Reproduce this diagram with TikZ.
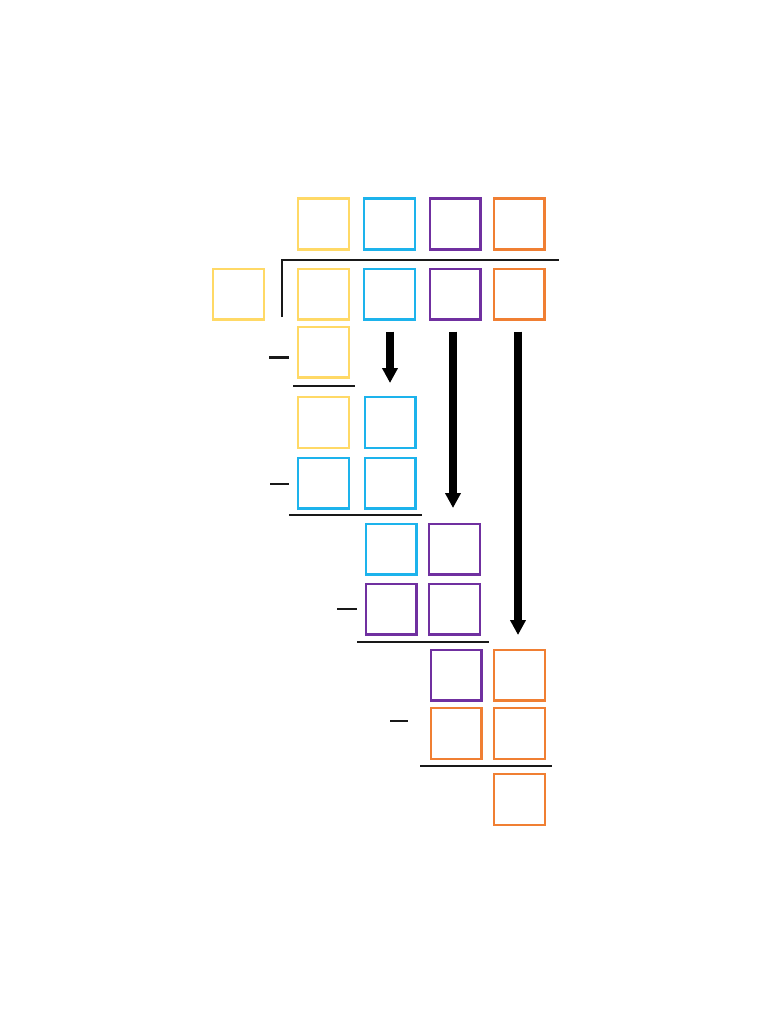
\documentclass[tikz,border=0pt]{standalone}
\usetikzlibrary{arrows.meta,calc}
\definecolor{cyel}{HTML}{FFD966}
\definecolor{cblu}{HTML}{1DB3EC}
\definecolor{cpur}{HTML}{7030A0}
\definecolor{cora}{HTML}{F07F33}
\begin{document}
\begin{tikzpicture}[x=1pt,y=-1pt,
  digit/.style={draw,line width=2.4pt,minimum size=50.6pt,inner sep=0pt},
  yb/.style={digit,draw=cyel},
  bb/.style={digit,draw=cblu},
  pb/.style={digit,draw=cpur},
  ob/.style={digit,draw=cora},
  rule/.style={line width=2.4pt,draw=black!90},
  minus/.style={line width=2.4pt,draw=black!90},
  carry/.style={line width=8pt,-{Triangle[width=15pt,length=15pt]}}]
\useasboundingbox (0,0) rectangle (768,1024);
% quotient row
\node[yb] (q1) at (323.5,224) {};
\node[bb] (q2) at (389.5,224) {};
\node[pb] (q3) at (455,224) {};
\node[ob] (q4) at (519,224) {};
% dividend row
\node[yb] (dv) at (238.5,294) {};
\node[yb] (d1) at (323.5,294) {};
\node[bb] (d2) at (389.5,294) {};
\node[pb] (d3) at (455,294) {};
\node[ob] (d4) at (519,294) {};
% division bracket
\coordinate (bt) at (282,317);
\coordinate (bc) at (282,260);
\coordinate (be) at (559,260);
\draw[rule] (bt) -- (bc) -- (be);
% step 1
\node[yb] (s1) at (323.5,352) {};
\coordinate (m1a) at (269,357.5); \coordinate (m1b) at (289,357.5);
\draw[minus] (m1a) -- (m1b);
\coordinate (l1a) at (293,386); \coordinate (l1b) at (355,386);
\draw[rule] (l1a) -- (l1b);
% step 2
\node[yb] (r4a) at (323.5,422.5) {};
\node[bb] (r4b) at (390,422.5) {};
\node[bb] (r5a) at (323.5,483) {};
\node[bb] (r5b) at (390,483) {};
\coordinate (m2a) at (270,484); \coordinate (m2b) at (289,484);
\draw[minus] (m2a) -- (m2b);
\coordinate (l2a) at (289,515); \coordinate (l2b) at (422,515);
\draw[rule] (l2a) -- (l2b);
% step 3
\node[bb] (r6a) at (391,549) {};
\node[pb] (r6b) at (454.5,549) {};
\node[pb] (r7a) at (391,609) {};
\node[pb] (r7b) at (454.5,609) {};
\coordinate (m3a) at (337,609); \coordinate (m3b) at (357,609);
\draw[minus] (m3a) -- (m3b);
\coordinate (l3a) at (357,642); \coordinate (l3b) at (489,642);
\draw[rule] (l3a) -- (l3b);
% step 4
\node[pb] (r8a) at (456,675) {};
\node[ob] (r8b) at (519.5,675) {};
\node[ob] (r9a) at (456,733.5) {};
\node[ob] (r9b) at (519.5,733.5) {};
\coordinate (m4a) at (390,721); \coordinate (m4b) at (408,721);
\draw[minus] (m4a) -- (m4b);
\coordinate (l4a) at (420,766); \coordinate (l4b) at (552,766);
\draw[rule] (l4a) -- (l4b);
\node[ob] (r10) at (519.5,799.5) {};
% bring-down arrows
\coordinate (e2) at (390,383);
\coordinate (e3) at (453,508);
\coordinate (e4) at (518,635);
\draw[carry] ($(d2.south)+(0.5,11)$) -- (e2);
\draw[carry] ($(d3.south)+(-2,11)$) -- (e3);
\draw[carry] ($(d4.south)+(-1,11)$) -- (e4);
\end{tikzpicture}
\end{document}
